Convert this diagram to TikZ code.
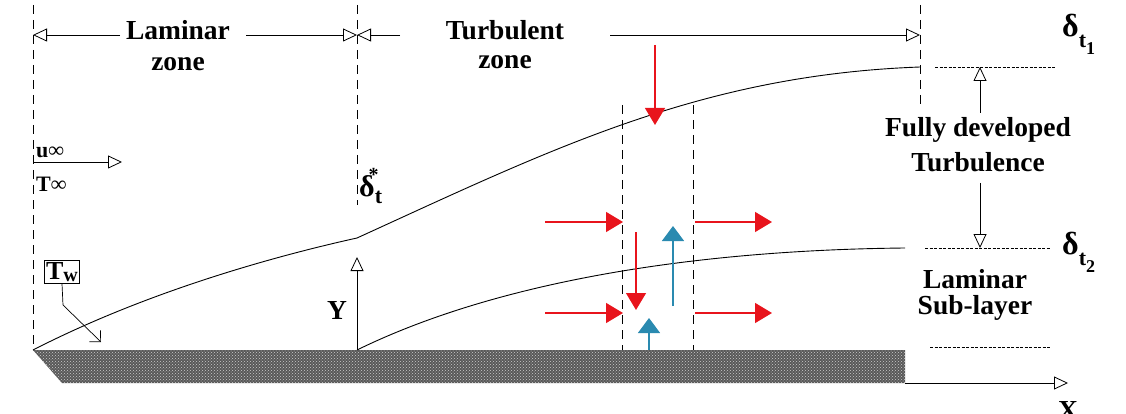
\documentclass[tikz,border=0pt]{standalone}
\usepackage{fontspec}
\setmainfont{Liberation Serif}
\usetikzlibrary{arrows.meta,patterns}
\definecolor{rd}{HTML}{E8141C}
\definecolor{bl}{HTML}{2A8AB0}
\newcommand{\subtx}[1]{\raisebox{-0.35em}{\fontsize{22}{24}\selectfont #1}}
\begin{document}
\begin{tikzpicture}[x=1pt,y=-1pt,
  txt/.style={font=\fontsize{27.5}{29}\selectfont\bfseries,inner sep=0pt,align=center},
  oarr/.style={-{Triangle[open,length=14pt,width=13pt]},line width=0.8pt},
  dsh/.style={dashed,dash pattern=on 9pt off 6pt,line width=0.9pt},
  dot/.style={densely dashed,dash pattern=on 3pt off 1.5pt,line width=0.6pt},
  ra/.style={rd,line width=1.2pt,-{Triangle[length=17pt,width=20pt]}},
  ba/.style={bl,line width=1.2pt,-{Triangle[length=15pt,width=22pt]}},
  ln/.style={line width=0.9pt}]
\useasboundingbox (0,0) rectangle (1126,414);
% dashed verticals
\draw[dsh] (33,5) -- (33,350);
\draw[dsh] (357,5) -- (357,205);
\draw[dsh] (920,5) -- (920,105);
\draw[dsh] (622,105) -- (622,350);
\draw[dsh] (693,105) -- (693,350);
% zone arrows
\coordinate (l0) at (33,35); \coordinate (m0) at (357,35); \coordinate (r0) at (920,35);
\node[txt] (lam) at (178,30) {Laminar};
\node[txt] at (178,64) {zone};
\node[txt] (tur) at (505,30) {Turbulent};
\node[txt] at (505,62) {zone};
\draw[oarr] (120,35) -- (l0);
\draw[oarr] (246,35) -- (m0);
\draw[oarr] (400,35) -- (m0);
\draw[oarr] (610,35) -- (r0);
% plate
\fill[black!65] (33,350) -- (905,350) -- (905,383) -- (62,383) -- cycle;
\fill[pattern=crosshatch dots, pattern color=white!80!black] (33,350) -- (905,350) -- (905,383) -- (62,383) -- cycle;
\coordinate (xa) at (1068,383);
\draw[oarr] (905,383) -- (xa);
\node[txt] at (1068,410) {X};
% boundary layers
\draw[ln] (33,350) .. controls (150,290) and (280,255) .. (357,238);
\draw[ln] (357,238) .. controls (550,150) and (700,75) .. (920,67);
\draw[ln] (357,350) .. controls (500,280) and (700,250) .. (905,248);
% dotted
\draw[dot] (935,67) -- (1055,67);
\draw[dot] (925,248) -- (1050,248);
\draw[dot] (930,347) -- (1050,347);
\node[txt,anchor=west,font=\fontsize{32}{34}\selectfont\bfseries] at (1062,34) {δ\subtx{t\raisebox{-0.3em}{\fontsize{18}{20}\selectfont 1}}};
\node[txt,anchor=west,font=\fontsize{32}{34}\selectfont\bfseries] at (1062,252) {δ\subtx{t\raisebox{-0.3em}{\fontsize{18}{20}\selectfont 2}}};
\node[txt] (fd) at (978,130) {Fully developed};
\node[txt] (tb) at (978,162) {Turbulence};
\draw[oarr] (980,113) -- (980,67);
\draw[oarr] (980,183) -- (980,248);
\node[txt] at (975,279) {Laminar};
\node[txt] at (975,308) {Sub-layer};
% inlet
\node[txt,anchor=west,font=\fontsize{22}{24}\selectfont\bfseries] at (36,152) {u∞};
\node[txt,anchor=west,font=\fontsize{22}{24}\selectfont\bfseries] at (36,184) {T∞};
\draw[oarr] (33,162) -- (122,162);
\node[txt,anchor=west,font=\fontsize{30}{32}\selectfont\bfseries] at (359,186) {δ\raisebox{-0.25em}{\fontsize{22}{24}\selectfont t}\hspace{-0.45em}\raisebox{0.5em}{\fontsize{20}{22}\selectfont *}};
% Y
\node[txt] at (337,310) {Y};
\draw[oarr] (357,350) -- (357,257);
% Tw
\node[draw,line width=0.8pt,inner sep=2pt,font=\fontsize{26}{28}\selectfont\bfseries] (tw) at (62,272) {T\raisebox{-0.05em}{\fontsize{20}{22}\selectfont w}};
\draw[line width=0.7pt,-{Straight Barb[length=8pt]}] (tw.south) -- (63,305) -- (101,342);
% red/blue arrows
\draw[ra] (655,45) -- (655,125);
\draw[ra] (545,222) -- (623,222);
\draw[ra] (695,222) -- (772,222);
\draw[ra] (545,313) -- (623,313);
\draw[ra] (695,313) -- (772,313);
\draw[ra] (636,232) -- (636,310);
\draw[ba] (673,306) -- (673,226);
\draw[ba] (649,350) -- (649,318);
\end{tikzpicture}
\end{document}
